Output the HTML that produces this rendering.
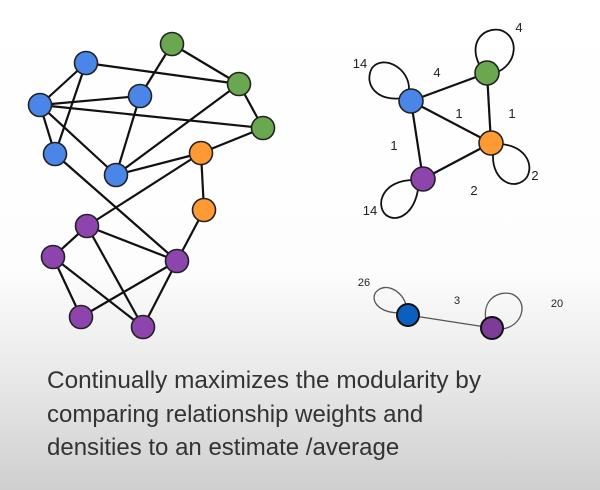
<!DOCTYPE html>
<html><head><meta charset="utf-8"><style>
html,body{margin:0;padding:0}
body{width:600px;height:490px;overflow:hidden;background:linear-gradient(#ffffff 0px,#fdfdfd 270px,#e8e8e8 380px,#cfcfcf 490px);font-family:"Liberation Sans",sans-serif}
</style></head><body>
<svg width="600" height="490" xmlns="http://www.w3.org/2000/svg" style="position:absolute;left:0;top:0">
<g stroke="#111" stroke-width="2.2" fill="none">
<line x1="172" y1="44" x2="239" y2="84"/>
<line x1="172" y1="44" x2="140" y2="96"/>
<line x1="86" y1="63" x2="239" y2="84"/>
<line x1="86" y1="63" x2="40" y2="105"/>
<line x1="86" y1="63" x2="55" y2="154"/>
<line x1="40" y1="105" x2="140" y2="96"/>
<line x1="40" y1="105" x2="263" y2="128"/>
<line x1="40" y1="105" x2="55" y2="154"/>
<line x1="40" y1="105" x2="116" y2="175"/>
<line x1="140" y1="96" x2="116" y2="175"/>
<line x1="239" y1="84" x2="263" y2="128"/>
<line x1="239" y1="84" x2="116" y2="175"/>
<line x1="116" y1="175" x2="201" y2="153"/>
<line x1="201" y1="153" x2="263" y2="128"/>
<line x1="201" y1="153" x2="204" y2="210"/>
<line x1="201" y1="153" x2="87" y2="226"/>
<line x1="55" y1="154" x2="177" y2="261"/>
<line x1="204" y1="210" x2="177" y2="261"/>
<line x1="87" y1="226" x2="53" y2="257"/>
<line x1="87" y1="226" x2="177" y2="261"/>
<line x1="87" y1="226" x2="143" y2="327"/>
<line x1="53" y1="257" x2="143" y2="327"/>
<line x1="53" y1="257" x2="81" y2="317"/>
<line x1="81" y1="317" x2="177" y2="261"/>
<line x1="177" y1="261" x2="143" y2="327"/>
<line x1="411" y1="101" x2="487" y2="73"/>
<line x1="411" y1="101" x2="491" y2="143"/>
<line x1="411" y1="101" x2="423" y2="179"/>
<line x1="487" y1="73" x2="491" y2="143"/>
<line x1="423" y1="179" x2="491" y2="143"/>
<path d="M402,98 C378,102 363,85 372,68 C383,54 410,68 409,90" stroke-width="1.8"/>
<path d="M480,66 C468,44 482,27 500,30 C520,36 518,65 495,73" stroke-width="1.8"/>
<path d="M500,144 C522,145 535,162 527,177 C516,192 492,182 493,155" stroke-width="1.8"/>
<path d="M418,189 C415,212 398,224 386,215 C375,205 382,180 414,180" stroke-width="1.8"/>
</g>
<g stroke="#555" stroke-width="1.3" fill="none">
<line x1="408" y1="315" x2="492" y2="328"/>
<path d="M400,313 C378,313 370,300 376,292 C386,281 403,292 406,305"/>
<path d="M486,320 C482,300 498,290 512,294 C530,302 522,327 502,329"/>
</g>
<g stroke="#222" stroke-width="1.6">
<circle cx="172" cy="44" r="11.5" fill="#6aa84f"/>
<circle cx="239" cy="84" r="11.5" fill="#6aa84f"/>
<circle cx="263" cy="128" r="11.5" fill="#6aa84f"/>
<circle cx="86" cy="63" r="11.5" fill="#4a86e8"/>
<circle cx="140" cy="96" r="11.5" fill="#4a86e8"/>
<circle cx="40" cy="105" r="11.5" fill="#4a86e8"/>
<circle cx="55" cy="154" r="11.5" fill="#4a86e8"/>
<circle cx="116" cy="175" r="11.5" fill="#4a86e8"/>
<circle cx="201" cy="153" r="11.5" fill="#ff9933"/>
<circle cx="204" cy="210" r="11.5" fill="#ff9933"/>
<circle cx="87" cy="226" r="11.5" fill="#8e44ad"/>
<circle cx="53" cy="257" r="11.5" fill="#8e44ad"/>
<circle cx="177" cy="261" r="11.5" fill="#8e44ad"/>
<circle cx="81" cy="317" r="11.5" fill="#8e44ad"/>
<circle cx="143" cy="327" r="11.5" fill="#8e44ad"/>
<circle cx="411" cy="101" r="12" fill="#4a86e8"/>
<circle cx="487" cy="73" r="12" fill="#6aa84f"/>
<circle cx="491" cy="143" r="12" fill="#ff9933"/>
<circle cx="423" cy="179" r="12" fill="#8e44ad"/>
<circle cx="408" cy="315" r="11" fill="#0b5fbf" stroke="#111" stroke-width="2"/>
<circle cx="492" cy="328" r="11" fill="#7d3c98" stroke="#111" stroke-width="2"/>
</g>
<g font-family="Liberation Sans, sans-serif" font-size="13" fill="#222" text-anchor="middle">
<text x="360" y="68">14</text>
<text x="437" y="77">4</text>
<text x="519" y="32">4</text>
<text x="459" y="118">1</text>
<text x="512" y="118">1</text>
<text x="394" y="150">1</text>
<text x="474" y="195">2</text>
<text x="535" y="180">2</text>
<text x="370" y="215">14</text>
<text x="364" y="286" font-size="11">26</text>
<text x="457" y="304" font-size="11">3</text>
<text x="557" y="307" font-size="11">20</text>
</g>
<g font-family="Liberation Sans, sans-serif" font-size="24" fill="#333">
<text x="47" y="388" textLength="434" lengthAdjust="spacingAndGlyphs">Continually maximizes the modularity by</text>
<text x="47" y="422">comparing relationship weights and</text>
<text x="47" y="455">densities to an estimate /average</text>
</g>
</svg>
</body></html>
